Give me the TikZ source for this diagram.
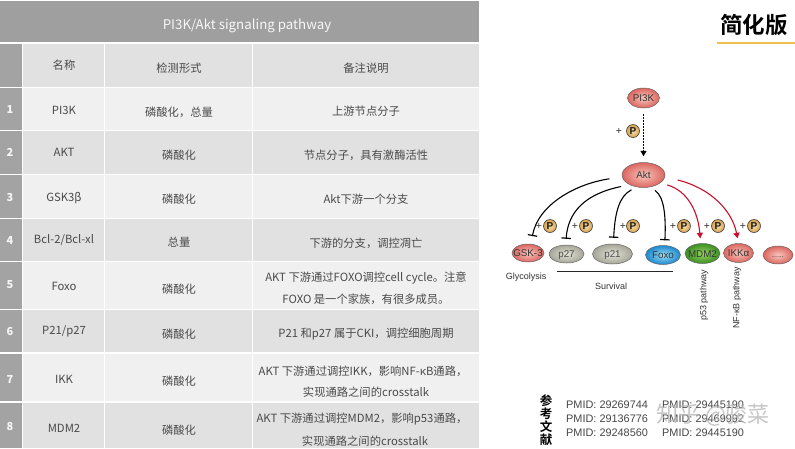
\documentclass[tikz,border=0pt]{standalone}
\usepackage{fontspec}
\setmainfont{Liberation Sans}
\newfontfamily\cjk{Noto Sans CJK SC}
\newfontfamily\cjkb{Noto Sans CJK SC Bold}
\usetikzlibrary{shapes.geometric,arrows.meta}
\newcommand{\molname}[1]{\smash{\makebox[0pt]{\raisebox{-0.36em}{#1}}}}
\definecolor{txt}{HTML}{4A4A4A}
\definecolor{hdr}{HTML}{9F9F9F}
\definecolor{idx}{HTML}{A3A3A3}
\definecolor{rowa}{HTML}{F0F0F0}
\definecolor{rowb}{HTML}{E1E1E1}
\definecolor{redarrow}{HTML}{C8102E}
\definecolor{goldline}{HTML}{EFC04F}
\definecolor{pinkin}{HTML}{F8C6BC}
\definecolor{pinkout}{HTML}{DB6660}
\definecolor{grayin}{HTML}{E2E2D6}
\definecolor{grayout}{HTML}{A6A698}
\definecolor{bluein}{HTML}{9ADDF5}
\definecolor{blueout}{HTML}{1C88CE}
\definecolor{greenin}{HTML}{96D45C}
\definecolor{greenout}{HTML}{3C8E25}
\definecolor{goldin}{HTML}{F6DFAE}
\definecolor{goldout}{HTML}{D6A04E}
\tikzset{
  x=1pt,y=-1pt,
  cella/.style={fill=rowa,draw=none},
  cellb/.style={fill=rowb,draw=none},
  cellx/.style={fill=idx,draw=none},
  tx/.style={font=\cjk\fontsize{11.3}{11.3}\selectfont,text=txt,inner sep=0pt},
  num/.style={font=\cjk\fontsize{11}{11}\selectfont\bfseries,text=white!90!idx,inner sep=0pt},
  mol/.style={ellipse,draw=black!60,line width=0.5pt,inner sep=0pt,font=\fontsize{9.8}{9.8}\selectfont,text=black!80},
  pink/.style={mol,inner color=pinkin,outer color=pinkout},
  graymol/.style={mol,inner color=grayin,outer color=grayout,text=black!70},
  bluemol/.style={mol,inner color=bluein,outer color=blueout},
  greenmol/.style={mol,inner color=greenin,outer color=greenout},
  pho/.style={circle,draw=black!75,line width=0.6pt,minimum size=13pt,inner sep=0pt,inner color=goldin,outer color=goldout,font=\fontsize{10}{10}\selectfont\bfseries,text=black!90},
  plus/.style={inner sep=0pt,font=\fontsize{10.5}{10.5}\selectfont,text=black!80},
  lab/.style={inner sep=0pt,font=\fontsize{9}{9}\selectfont,text=black!80},
  pm/.style={inner sep=0pt,anchor=west,font=\fontsize{10.9}{10.9}\selectfont,text=black!72},
  inhib/.style={line width=1.1pt,black,line cap=round,-{Bar[width=9.5pt,line width=1.2pt,length=1pt]}},
  activ/.style={line width=1.1pt,redarrow,-{Triangle[width=6pt,length=5.5pt]}},
}
\begin{document}
\begin{tikzpicture}
\useasboundingbox (0,0) rectangle (795,448);
\fill[white] (0,0) rectangle (795,448);
% table backgrounds
\fill[hdr] (0,1) rectangle (479,42);
\foreach \ya/\yb/\st in {44/87/cellb,87.5/130/cella,131/174/cellb,175/218/cella,219/261/cellb,262/309/cella,310/352/cellb,354/401/cella,403/448/cellb}{
  \fill[cellx] (0,\ya) rectangle (22,\yb);
  \path[\st] (23,\ya) rectangle (104,\yb);
  \path[\st] (105,\ya) rectangle (252,\yb);
  \path[\st] (253,\ya) rectangle (479,\yb);
}
\node[inner sep=0pt,font=\cjk\fontsize{13.3}{13.3}\selectfont,text=white!92!hdr] (title) at (247,25.5) {PI3K/Akt signaling pathway};
\node[tx] (h1) at (64,65) {名称};
\node[tx] (h2) at (179,68) {检测形式};
\node[tx] (h3) at (366,68) {备注说明};
\node[num] (n1) at (10,110) {1};
\node[num] (n2) at (10,152) {2};
\node[num] (n3) at (10,198) {3};
\node[num] (n4) at (10,240) {4};
\node[num] (n5) at (10,285) {5};
\node[num] (n6) at (10,331) {6};
\node[num] (n7) at (10,379) {7};
\node[num] (n8) at (10,426) {8};
\node[tx] (a1) at (64,110) {PI3K};
\node[tx] (b1) at (179,112) {磷酸化，总量};
\node[tx] (c1) at (366,111.5) {上游节点分子};
\node[tx] (a2) at (64,152) {AKT};
\node[tx] (b2) at (179,155) {磷酸化};
\node[tx] (c2) at (366,155) {节点分子，具有激酶活性};
\node[tx] (a3) at (64,198) {GSK3β};
\node[tx] (b3) at (179,199) {磷酸化};
\node[tx] (c3) at (366,199) {Akt下游一个分支};
\node[tx] (a4) at (64,240) {Bcl-2/Bcl-xl};
\node[tx] (b4) at (179,242) {总量};
\node[tx] (c4) at (366,243) {下游的分支，调控凋亡};
\node[tx] (a5) at (64,286) {Foxo};
\node[tx] (b5) at (179,289) {磷酸化};
\node[tx] (c5a) at (366,278) {AKT 下游通过FOXO调控cell cycle。注意};
\node[tx] (c5b) at (366,299) {FOXO 是一个家族，有很多成员。};
\node[tx] (a6) at (64,331) {P21/p27};
\node[tx] (b6) at (179,334) {磷酸化};
\node[tx] (c6) at (366,334) {P21 和p27 属于CKI，调控细胞周期};
\node[tx] (a7) at (64,379) {IKK};
\node[tx] (b7) at (179,381) {磷酸化};
\node[tx] (c7a) at (363,371) {AKT 下游通过调控IKK，影响NF-κB通路，};
\node[tx] (c7b) at (366,392) {实现通路之间的crosstalk};
\node[tx] (a8) at (64,428) {MDM2};
\node[tx] (b8) at (179,430) {磷酸化};
\node[tx] (c8a) at (362,419) {AKT 下游通过调控MDM2，影响p53通路，};
\node[tx] (c8b) at (365,441) {实现通路之间的crosstalk};
% simplified title
\node[inner sep=0pt,font=\cjkb\fontsize{22.5}{22.5}\selectfont,text=black] (simple) at (754,25) {简化版};
\draw[goldline,line width=2pt] (717,43) -- (795,43);
% molecules
\node[pink,minimum width=32pt,minimum height=20pt] (pi3k) at (643.5,98) {\molname{PI3K}};
\node[pink,minimum width=43pt,minimum height=25pt] (akt) at (643.5,175) {\molname{Akt}};
\node[pink,minimum width=32pt,minimum height=18pt] (gsk) at (528,253) {\molname{GSK-3}};
\node[graymol,minimum width=35pt,minimum height=18pt] (p27) at (566.5,254) {\molname{p27}};
\node[graymol,minimum width=40pt,minimum height=20pt] (p21) at (612.5,254) {\molname{p21}};
\node[bluemol,minimum width=35pt,minimum height=19pt] (foxo) at (663,255) {\molname{Foxo}};
\node[greenmol,minimum width=35pt,minimum height=20pt] (mdm) at (702.5,253.5) {\molname{MDM2}};
\node[pink,minimum width=30pt,minimum height=19pt] (ikk) at (738.5,253) {\molname{IKKα}};
\node[pink,minimum width=30pt,minimum height=18pt,font=\fontsize{7}{7}\selectfont] (dots) at (778,255) {\molname{......}};
% phospho
\node[pho] (p0) at (633,131) {P};
\node[plus] (s0) at (619,131) {+};
\node[pho] (p1) at (550,226) {P};
\node[plus] (s1) at (539,226) {+};
\node[pho] (p2) at (586,226) {P};
\node[plus] (s2) at (575,226) {+};
\node[pho] (p3) at (633,226) {P};
\node[plus] (s3) at (623,226) {+};
\node[pho] (p4) at (684,226) {P};
\node[plus] (s4) at (673,226) {+};
\node[pho] (p5) at (718,226) {P};
\node[plus] (s5) at (707,226) {+};
\node[pho] (p6) at (754,226) {P};
\node[plus] (s6) at (743,226) {+};
% connectors
\draw[line width=1.1pt,dash pattern=on 1.8pt off 1.2pt,-{Triangle[width=6pt,length=5.5pt]},shorten <=6pt,shorten >=6pt] (pi3k) -- (akt);
\draw[inhib,shorten <=13pt,shorten >=8pt] (akt.185) .. controls (575,184) and (538,205) .. (gsk.72);
\draw[inhib,shorten <=9pt,shorten >=6pt] (akt.215) .. controls (585,194) and (568,212) .. (p27.95);
\draw[inhib,shorten <=6pt,shorten >=6pt] (akt.240) .. controls (620,196) and (615,210) .. (p21.85);
\draw[inhib,shorten <=6pt,shorten >=5pt] (akt.300) .. controls (664,197) and (666,215) .. (foxo.80);
\draw[activ,shorten <=7pt,shorten >=5pt] (akt.-25) .. controls (688,191) and (698,212) .. (mdm.100);
\draw[activ,shorten <=13pt,shorten >=5pt] (akt.-5) .. controls (710,188) and (732,210) .. (ikk.north);
% labels
\node[lab] (gly) at (526,277) {Glycolysis};
\coordinate (sa) at (557,271.5);
\coordinate (sb) at (673,271.5);
\draw[line width=1pt,black!85] (sa) -- (sb);
\node[lab] (sur) at (611,286) {Survival};
\node[lab,rotate=90] (p53) at (704,295) {p53 pathway};
\node[lab,rotate=90] (nfk) at (737,298) {NF-κB pathway};
% references
\node[inner sep=0pt,align=center,font=\cjkb\fontsize{12.5}{12.8}\selectfont,text=black] (ref) at (546,420) {参\\考\\文\\献};
\node[pm] (r1) at (566,405) {PMID: 29269744};
\node[pm] (r2) at (566,419) {PMID: 29136776};
\node[pm] (r3) at (566,433) {PMID: 29248560};
\node[pm] (r4) at (662,405) {PMID: 29445190};
\node[pm] (r5) at (662,419) {PMID: 29469992};
\node[pm] (r6) at (662,433) {PMID: 29445190};
% watermark
\node[inner sep=0pt,font=\cjk\fontsize{22}{22}\selectfont,text=black!28,opacity=.8] (wm) at (713,415) {知乎 @骏菜};
\end{tikzpicture}
\end{document}
